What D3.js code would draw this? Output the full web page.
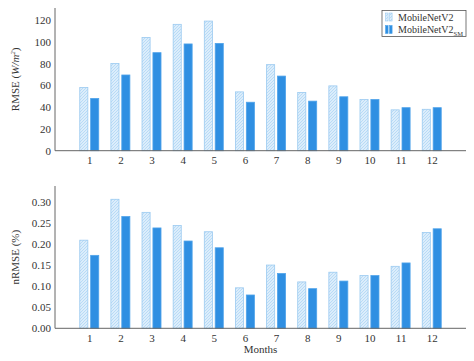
<!DOCTYPE html>
<html lang="en">
<head>
  <meta charset="utf-8">
  <title>RMSE / nRMSE by month</title>
  <script src="https://cdnjs.cloudflare.com/ajax/libs/d3/7.8.5/d3.min.js"></script>
  <style>
    body { margin: 0; background: #fff; }
    text { font-family: "Liberation Serif", "DejaVu Serif", serif; fill: #333; }
    .axis path, .axis line { stroke: #666; }
    .axis text { font-size: 11px; }
  </style>
</head>
<body>
  <svg id="svg" width="474" height="361"></svg>
  <script>
    // data
    var months = [1, 2, 3, 4, 5, 6, 7, 8, 9, 10, 11, 12];
    var seriesNames = ["MobileNetV2", "MobileNetV2SM"];
    var rmseBase = [58, 80, 104, 116, 119, 54, 79, 53.5, 59.5, 47, 37.5, 38];
    var rmseSM   = [48, 69.5, 90, 98, 98.5, 44.5, 68.5, 45.5, 49.5, 47, 39.5, 39.5];
    var nrmseBase = [0.209, 0.306, 0.275, 0.244, 0.229, 0.096, 0.150, 0.110, 0.133, 0.125, 0.147, 0.227];
    var nrmseSM   = [0.173, 0.265, 0.238, 0.207, 0.191, 0.079, 0.130, 0.094, 0.112, 0.125, 0.155, 0.236];
    var rmseTicks = [0, 20, 40, 60, 80, 100, 120];
    var nrmseTicks = [0, 0.05, 0.10, 0.15, 0.20, 0.25, 0.30];

    var svg = d3.select("#svg");

    // hatch for the plain model
    var defs = svg.append("defs");
    var pat = defs.append("pattern")
      .attr("id", "hatch")
      .attr("patternUnits", "userSpaceOnUse")
      .attr("width", 3).attr("height", 3);
    pat.append("rect").attr("width", 3).attr("height", 3).attr("fill", "#dcedfb");
    pat.append("path").attr("d", "M0,3 L3,0 M-1,1 L1,-1 M2,4 L4,2")
      .attr("stroke", "#a9d2f3").attr("stroke-width", 0.7);

    var left = 55, right = 466;
    var x = d3.scaleLinear().domain([-0.1, 13.1]).range([left, right]);
    var barW = 0.26, off = 0.175;

    function panel(top, bottom, maxY, ticks, fmt, base, sm) {
      var y = d3.scaleLinear().domain([0, maxY]).range([bottom, top]);
      var g = svg.append("g");

      g.selectAll("rect.base").data(months).enter().append("rect")
        .attr("class", "base")
        .attr("x", function (d) { return x(d - off - barW / 2); })
        .attr("width", x(barW) - x(0))
        .attr("y", function (d, i) { return y(base[i]); })
        .attr("height", function (d, i) { return y(0) - y(base[i]); })
        .attr("fill", "url(#hatch)")
        .attr("stroke", "#9bcaf0").attr("stroke-width", 0.8);

      g.selectAll("rect.sm").data(months).enter().append("rect")
        .attr("class", "sm")
        .attr("x", function (d) { return x(d + off - barW / 2); })
        .attr("width", x(barW) - x(0))
        .attr("y", function (d, i) { return y(sm[i]); })
        .attr("height", function (d, i) { return y(0) - y(sm[i]); })
        .attr("fill", "#2f8fe2")
        .attr("stroke", "#4fa3ea").attr("stroke-width", 0.8);

      g.append("g").attr("class", "axis")
        .attr("transform", "translate(" + left + ",0)")
        .call(d3.axisLeft(y).tickValues(ticks).tickFormat(fmt).tickSize(0).tickPadding(4))
        .call(function (a) { a.select(".domain").attr("d", "M0," + top + "V" + bottom); });

      g.append("g").attr("class", "axis")
        .attr("transform", "translate(0," + bottom + ")")
        .call(d3.axisBottom(x).tickValues(months).tickFormat(d3.format("d")).tickSize(0).tickPadding(6))
        .call(function (a) { a.select(".domain").attr("d", "M" + left + ",0H" + right); });

      return g.append("text")
        .attr("transform", "translate(19," + ((top + bottom) / 2) + ") rotate(-90)")
        .attr("text-anchor", "middle")
        .style("font-size", "11px");
    }

    var l1 = panel(8, 150.7, 131, rmseTicks, d3.format("d"), rmseBase, rmseSM);
    l1.append("tspan").text("RMSE (");
    l1.append("tspan").style("font-style", "italic").text("W/m");
    l1.append("tspan").attr("dy", -4).style("font-size", "7px").style("font-style", "italic").text("2");
    l1.append("tspan").attr("dy", 4).text(")");

    var l2 = panel(186, 328.3, 0.3375, nrmseTicks, d3.format(".2f"), nrmseBase, nrmseSM);
    l2.text("nRMSE (%)");

    svg.append("text")
      .attr("x", (left + right) / 2).attr("y", 353)
      .attr("text-anchor", "middle")
      .style("font-size", "11px")
      .text("Months");

    // legend
    var lg = svg.append("g").attr("transform", "translate(382,10.5)");
    lg.append("rect").attr("width", 84).attr("height", 26)
      .attr("fill", "#fff").attr("stroke", "#555").attr("stroke-width", 0.8);
    var styles = [
      { fill: "url(#hatch)", stroke: "#9bcaf0" },
      { fill: "#2f8fe2", stroke: "#4fa3ea" }
    ];
    seriesNames.forEach(function (name, i) {
      var row = lg.append("g").attr("transform", "translate(0," + (6.5 + i * 12.5) + ")");
      [0, 4].forEach(function (dx) {
        row.append("rect").attr("x", 3.5 + dx).attr("y", -4).attr("width", 2.6).attr("height", 8)
          .attr("fill", styles[i].fill).attr("stroke", styles[i].stroke).attr("stroke-width", 0.6);
      });
      var t = row.append("text").attr("x", 16).attr("y", 3.5).style("font-size", "10px");
      if (i === 0) {
        t.text(name);
      } else {
        t.append("tspan").text("MobileNetV2");
        t.append("tspan").attr("dy", 2.5).style("font-size", "6.5px").text("SM");
      }
    });
  </script>
</body>
</html>
